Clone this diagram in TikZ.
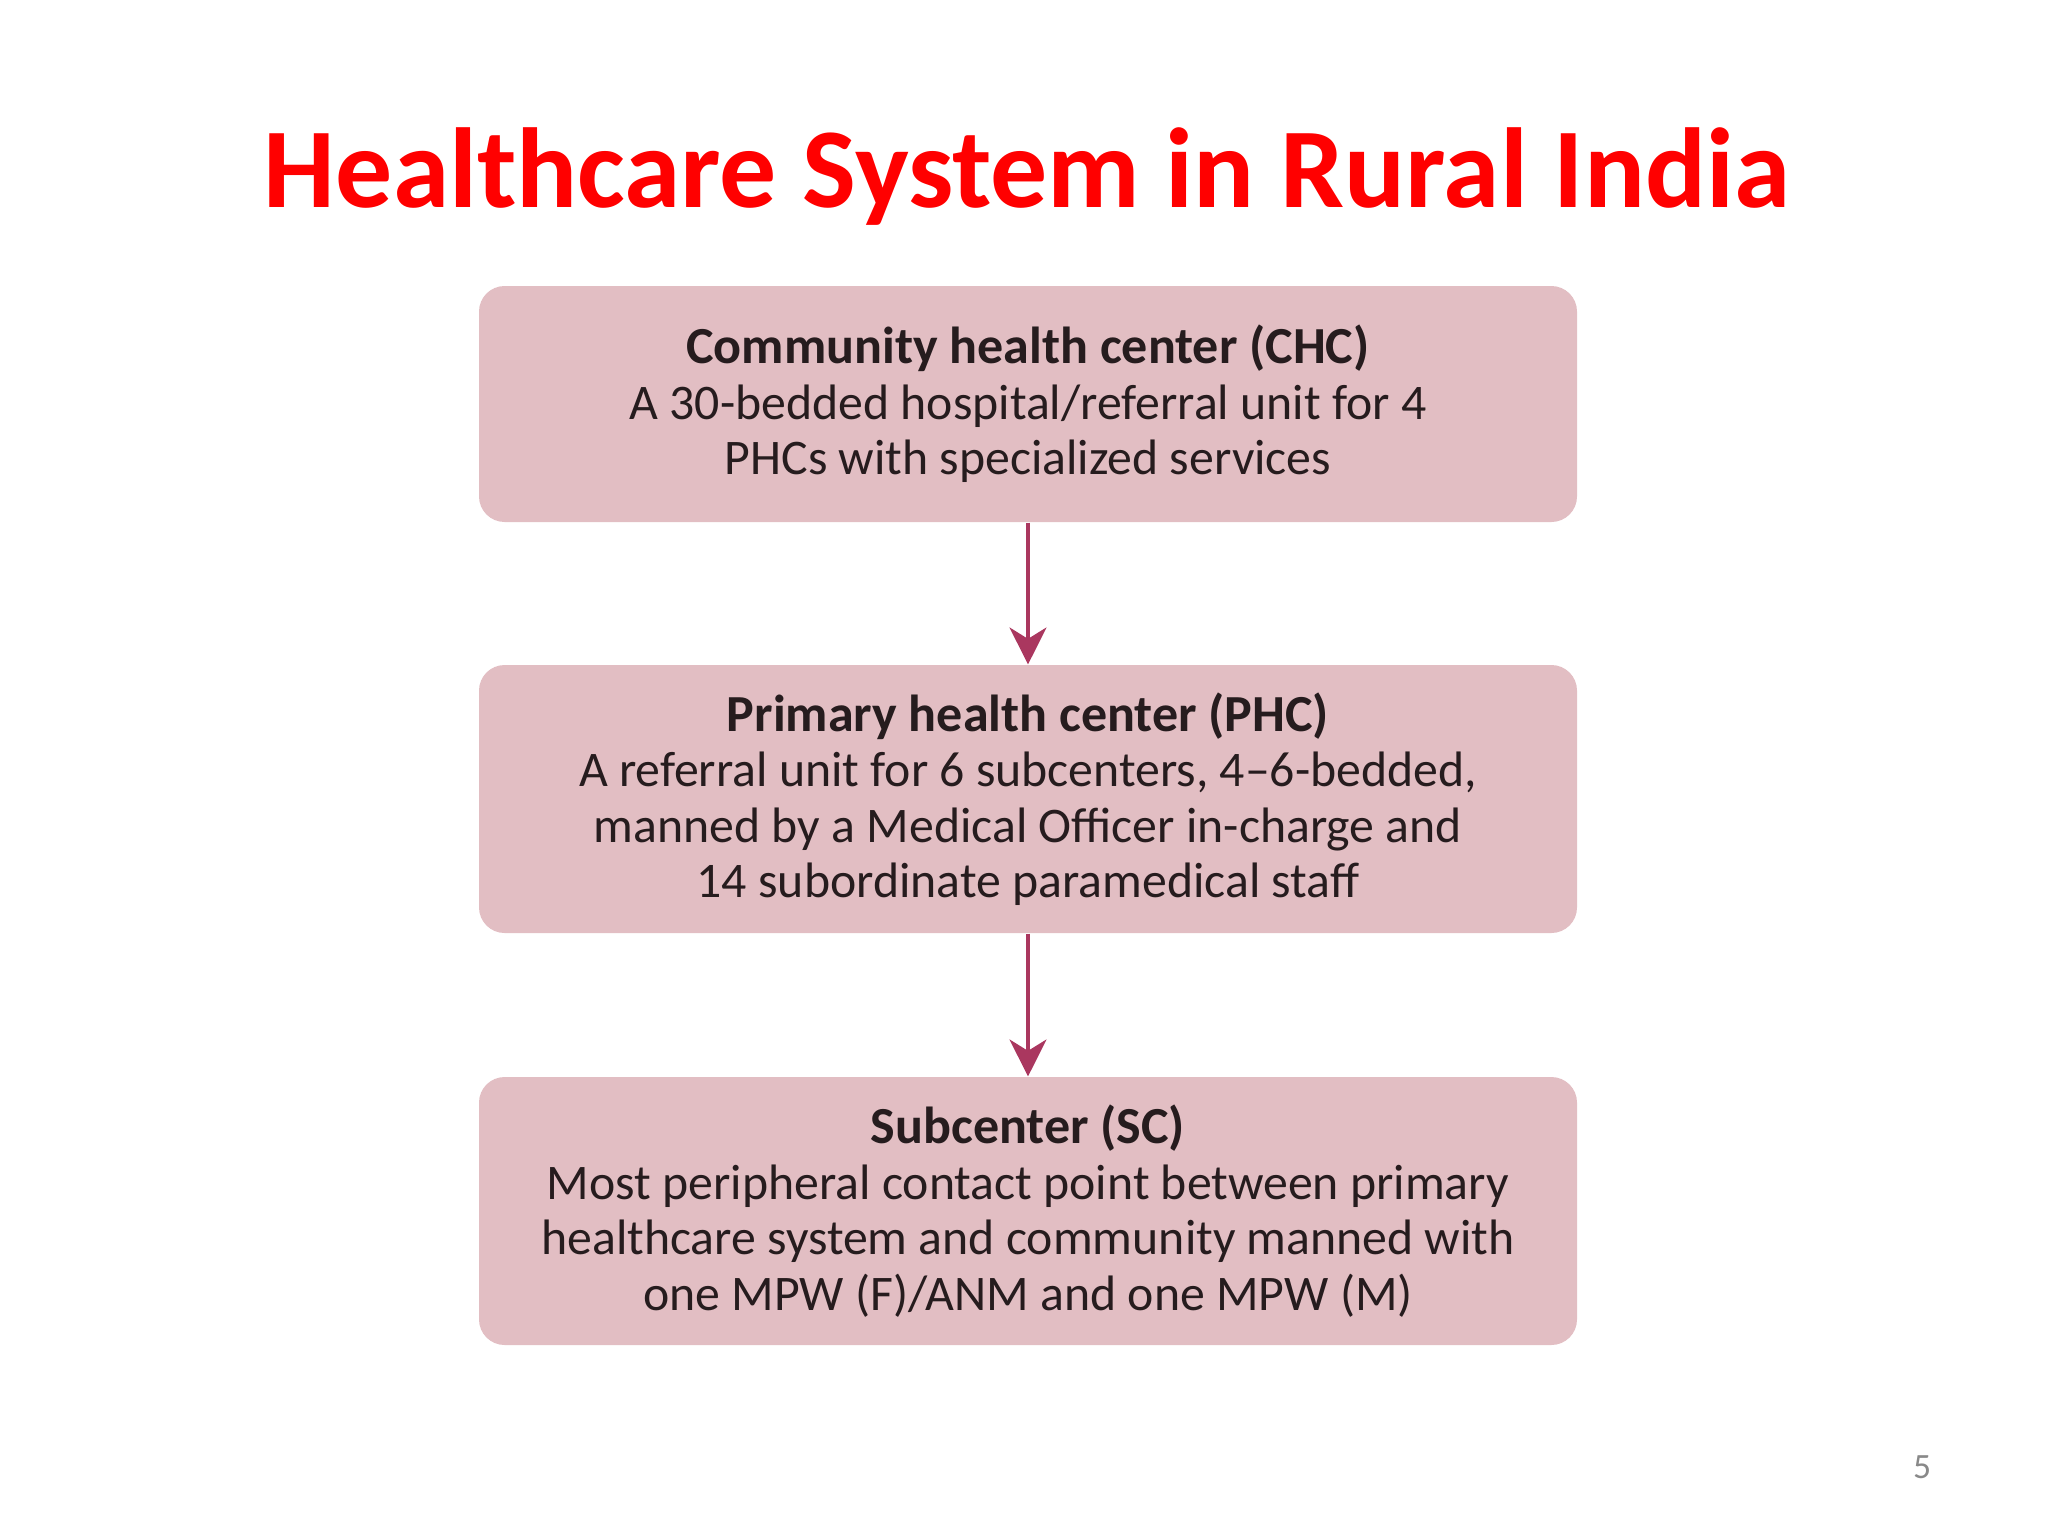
\documentclass[tikz,border=0pt]{standalone}
\usepackage{fontspec}
\setmainfont{Carlito}
\usetikzlibrary{arrows.meta}
\definecolor{boxfill}{RGB}{226,190,195}
\definecolor{arrowcol}{RGB}{170,55,95}
\definecolor{txtcol}{RGB}{38,28,30}
\definecolor{titlered}{RGB}{255,0,0}
\definecolor{pagegray}{RGB}{137,137,137}
\newcommand{\headline}[1]{{\fontsize{18.3}{19.5}\selectfont\bfseries #1}}
\tikzset{
  levelbox/.style={fill=boxfill, draw=none, rounded corners=9pt, inner sep=0pt,
    text=txtcol, align=center, font=\fontsize{17.5}{19.5}\selectfont},
  flowarrow/.style={draw=arrowcol, line width=1.1pt, -{Stealth[length=13pt,width=13pt,inset=4pt]}},
}
\begin{document}
\begin{tikzpicture}[x=0.3516pt, y=-0.3516pt]
\useasboundingbox (0,0) rectangle (2048,1536);
\node[text=titlered, font=\fontsize{40}{48}\selectfont\bfseries] (title) at (1027,177) {Healthcare System in Rural India};
\node[levelbox, minimum width=1098*0.3516pt, minimum height=236*0.3516pt] (chc) at (1028,404)
  {\headline{Community health center (CHC)}\\A 30-bedded hospital/referral unit for 4\\PHCs with specialized services};
\node[levelbox, minimum width=1098*0.3516pt, minimum height=268*0.3516pt] (phc) at (1028,799)
  {\headline{Primary health center (PHC)}\\A referral unit for 6 subcenters, 4--6-bedded,\\manned by a Medical Officer in-charge and\\14 subordinate paramedical staff};
\node[levelbox, minimum width=1098*0.3516pt, minimum height=268*0.3516pt] (sc) at (1028,1211)
  {\headline{Subcenter (SC)}\\Most peripheral contact point between primary\\healthcare system and community manned with\\one MPW (F)/ANM and one MPW (M)};
\draw[flowarrow] (chc.south) -- (phc.north);
\draw[flowarrow] (phc.south) -- (sc.north);
\node[text=pagegray, font=\fontsize{12.5}{14}\selectfont] (page) at (1922,1467) {5};
\end{tikzpicture}
\end{document}
